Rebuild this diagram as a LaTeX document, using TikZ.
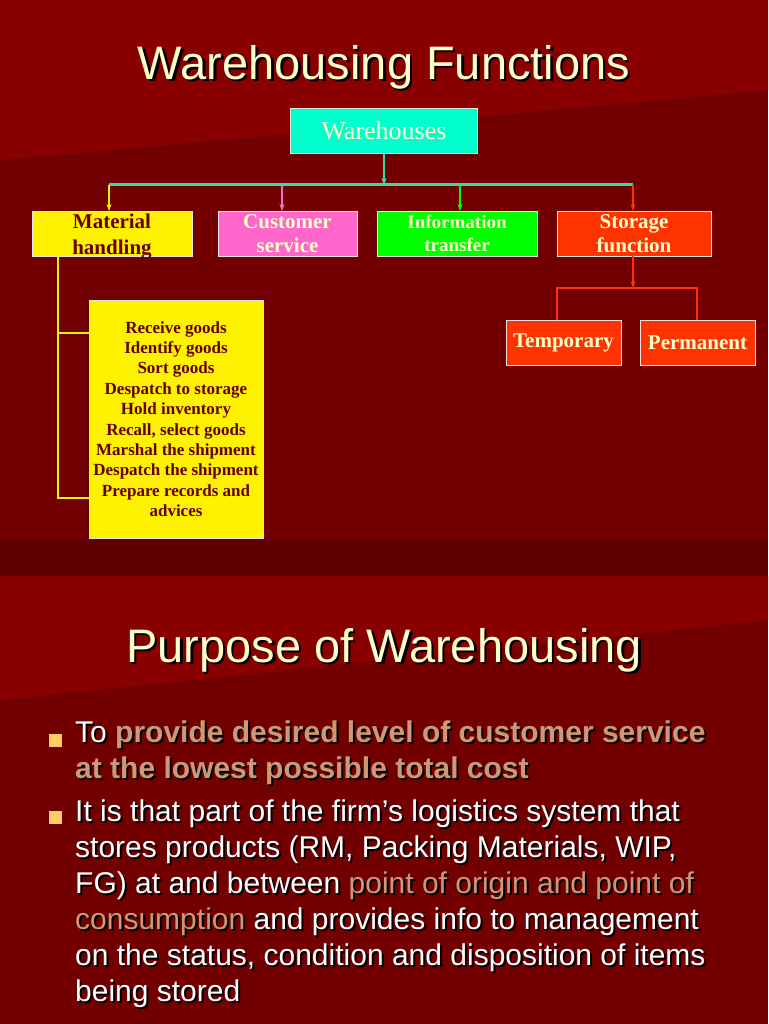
\documentclass[tikz,border=0pt]{standalone}
\usepackage{fontspec}
\setmainfont{Liberation Serif}
\newfontfamily\arial{Liberation Sans}
\usetikzlibrary{arrows.meta}
\definecolor{bgdark}{HTML}{720000}
\definecolor{bglight}{HTML}{880000}
\definecolor{cream}{HTML}{FFFFCC}
\definecolor{teal}{HTML}{33DDAA}
\definecolor{tan}{HTML}{CC9977}
\definecolor{bul}{HTML}{FFCC66}
\definecolor{dred}{HTML}{660000}
\definecolor{pinkc}{HTML}{FF66CC}
\definecolor{greenc}{HTML}{00FF00}
\definecolor{orangec}{HTML}{FF3300}
\definecolor{aquac}{HTML}{00FFCC}
\begin{document}
\begin{tikzpicture}[x=1pt,y=-1pt,
  box/.style={draw=white!80!gray,line width=0.8pt,minimum height=45pt,inner sep=0pt,align=center,font=\bfseries\fontsize{21}{24}\selectfont,text=cream},
  lst/.style={font=\bfseries\fontsize{17}{20.4}\selectfont,text=dred,align=center},
  arr/.style={-{Stealth[length=7pt,width=5pt]},line width=1.3pt},
  ttl/.style={font=\arial\fontsize{47}{50}\selectfont},
  bt/.style={font=\arial\fontsize{30}{36}\selectfont,anchor=north west,align=left,inner sep=0pt}]
\useasboundingbox (0,0) rectangle (768,1024);
\fill[bgdark] (0,0) rectangle (768,1024);
\fill[bglight] (0,0) -- (768,0) -- (768,90) -- (0,160) -- cycle;
\fill[bgdark!85!black] (0,540) rectangle (768,576);
\fill[bglight] (0,576) -- (768,576) -- (768,620) -- (0,700) -- cycle;
% title 1
\node[ttl,text=black] at (386.5,69.5) {Warehousing Functions};
\node[ttl,text=cream] (t1) at (384,67) {Warehousing Functions};
% boxes
\node[box,fill=aquac,minimum width=187pt,font=\fontsize{26}{28}\selectfont] (wh) at (384,131) {Warehouses};
\node[box,fill=yellow,minimum width=160pt,text=dred] (mh) at (112,233.5) {};
\begin{scope}
\clip (32,211) rectangle (192,256);
\node[align=center,text=dred,font=\bfseries\fontsize{21}{26}\selectfont] (mht) at (112,237) {Material\\handling};
\end{scope}
\node[box,fill=pinkc,minimum width=139pt] (cs) at (287.5,233.5) {Customer\\service};
\node[box,fill=greenc,minimum width=160pt,font=\bfseries\fontsize{19}{23}\selectfont] (it) at (457,233.5) {Information\\transfer};
\node[box,fill=orangec,minimum width=154pt] (sf) at (634,233.5) {Storage\\function};
\node[box,fill=orangec,minimum width=115pt] (tp) at (563.5,342.5) {Temporary};
\node[box,fill=orangec,minimum width=115pt] (pm) at (697.5,342.5) {Permanent};
\node[draw=white!80!gray,fill=yellow,minimum width=174pt,minimum height=238pt,inner sep=0pt] (lb) at (176,419) {};
\node[lst] (lt) at (176,419) {Receive goods\\Identify goods\\Sort goods\\Despatch to storage\\Hold inventory\\Recall, select goods\\Marshal the shipment\\Despatch the shipment\\Prepare records and\\advices};
% connectors
\coordinate (bl) at (109,185); \coordinate (br) at (633,185);
\draw[teal,line width=3pt] (bl) -- (br);
\draw[arr,teal] (wh.south) -- (384,185);
\draw[arr,yellow] (109,185) -- (109,211);
\draw[arr,pinkc] (282,185) -- (282,211);
\draw[arr,greenc] (460,185) -- (460,211);
\draw[arr,orangec] (633,185) -- (633,211);
\draw[yellow,line width=1.5pt] (58,256) -- (58,498) -- (89,498) (58,333) -- (89,333);
\draw[arr,orangec] (633,256) -- (633,288);
\draw[orangec,line width=1.8pt] (557,320) -- (557,288) -- (697,288) -- (697,320);
% title 2
\node[ttl,text=black] at (386.5,652.5) {Purpose of Warehousing};
\node[ttl,text=cream] (t2) at (384,650) {Purpose of Warehousing};
% bullets
\fill[bul] (49,734) rectangle (62,747);
\fill[bul] (49,811) rectangle (62,824);
\node[bt,text=black] at (77,723) {To \textbf{provide desired level of customer service}\\\textbf{at the lowest possible total cost}};
\node[bt,text=white] (b1) at (75,721) {To \textbf{\textcolor{tan}{provide desired level of customer service}}\\\textbf{\textcolor{tan}{at the lowest possible total cost}}};
\node[bt,text=black] at (77,802) {It is that part of the firm’s logistics system that\\stores products (RM, Packing Materials, WIP,\\FG) at and between point of origin and point of\\consumption and provides info to management\\on the status, condition and disposition of items\\being stored};
\node[bt,text=white] (b2) at (75,800) {It is that part of the firm’s logistics system that\\stores products (RM, Packing Materials, WIP,\\FG) at and between \textcolor{tan}{point of origin and point of}\\\textcolor{tan}{consumption} and provides info to management\\on the status, condition and disposition of items\\being stored};
\end{tikzpicture}
\end{document}
